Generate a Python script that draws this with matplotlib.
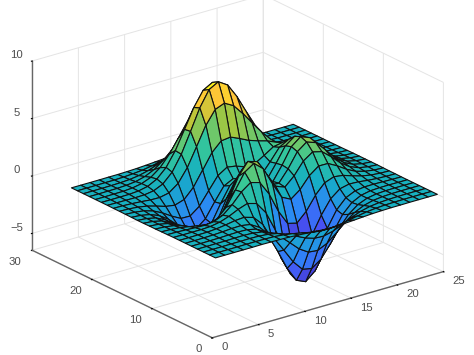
#!/usr/bin/env python3
import numpy as np
import matplotlib
matplotlib.use("Agg")
import matplotlib.pyplot as plt
from matplotlib.colors import LinearSegmentedColormap

# surface heights, one row per y = 1..25, one column per x = 1..25
row01 = [0,0,0,0,0,.01,0,-.01,-.03,-.08,-.14,-.20,-.25,-.25,-.22,-.17,-.11,-.06,-.03,-.01,-.01,0,0,0,0]
row02 = [0,0,0,0,.01,.01,0,-.02,-.10,-.22,-.39,-.56,-.68,-.69,-.61,-.46,-.30,-.17,-.08,-.03,-.01,0,0,0,0]
row03 = [0,0,0,.01,.01,.02,0,-.07,-.23,-.52,-.91,-1.30,-1.56,-1.60,-1.40,-1.06,-.69,-.38,-.18,-.08,-.03,-.01,0,0,0]
row04 = [0,0,.01,.01,.03,.04,.01,-.12,-.44,-.99,-1.74,-2.51,-3.02,-3.10,-2.72,-2.05,-1.32,-.73,-.35,-.14,-.05,-.01,0,0,0]
row05 = [0,0,.01,.02,.05,.07,.05,-.13,-.59,-1.45,-2.64,-3.88,-4.76,-4.93,-4.35,-3.27,-2.10,-1.15,-.53,-.20,-.06,-.01,0,0,0]
row06 = [0,0,.01,.03,.07,.13,.15,.02,-.46,-1.48,-3.01,-4.70,-5.98,-6.33,-5.64,-4.24,-2.69,-1.42,-.61,-.20,-.04,0,.01,0,0]
row07 = [0,0,.01,.02,.08,.19,.33,.39,.15,-.68,-2.18,-4.07,-5.68,-6.32,-5.76,-4.31,-2.63,-1.27,-.44,-.07,.04,.05,.03,.01,0]
row08 = [0,-.01,-.01,-.01,.03,.17,.45,.83,1.11,.88,-.14,-1.85,-3.61,-4.61,-4.40,-3.23,-1.74,-.56,.08,.27,.23,.13,.06,.02,.01]
row09 = [-.01,-.02,-.06,-.10,-.13,-.04,.30,.98,1.86,2.45,2.22,1.00,-.73,-2.02,-2.22,-1.43,-.27,.58,.88,.77,.50,.26,.11,.04,.01]
row10 = [-.02,-.05,-.12,-.26,-.42,-.51,-.28,.49,1.78,3.09,3.63,2.94,1.40,0,-.41,.20,1.18,1.79,1.78,1.35,.82,.41,.18,.06,.02]
row11 = [-.03,-.08,-.20,-.44,-.80,-1.16,-1.21,-.60,.80,2.49,3.55,3.30,2.00,.70,.39,1.14,2.20,2.76,2.56,1.88,1.12,.56,.24,.09,.03]
row12 = [-.03,-.10,-.27,-.60,-1.14,-1.78,-2.16,-1.84,-.56,1.23,2.56,2.63,1.58,.53,.48,1.50,2.76,3.37,3.09,2.25,1.34,.67,.28,.10,.03]
row13 = [-.04,-.11,-.30,-.69,-1.33,-2.14,-2.77,-2.71,-1.65,.06,1.48,1.75,.98,.19,.37,1.57,2.94,3.58,3.27,2.37,1.41,.70,.30,.11,.03]
row14 = [-.04,-.11,-.29,-.68,-1.32,-2.16,-2.87,-2.98,-2.15,-.65,.68,1.06,.52,-.03,.28,1.47,2.76,3.36,3.06,2.22,1.32,.66,.28,.10,.03]
row15 = [-.03,-.09,-.25,-.57,-1.12,-1.85,-2.49,-2.64,-2.00,-.76,.39,.80,.46,.09,.38,1.34,2.38,2.83,2.56,1.85,1.09,.54,.23,.08,.03]
row16 = [-.02,-.07,-.18,-.42,-.82,-1.33,-1.76,-1.78,-1.16,-.05,1.04,1.55,1.42,1.12,1.17,1.65,2.17,2.32,1.99,1.40,.82,.40,.17,.06,.02]
row17 = [-.01,-.04,-.11,-.25,-.48,-.74,-.86,-.60,.23,1.51,2.80,3.59,3.69,3.34,2.94,2.66,2.43,2.08,1.58,1.04,.58,.28,.11,.04,.01]
row18 = [-.01,-.02,-.06,-.12,-.20,-.22,-.05,.55,1.70,3.29,4.92,6.07,6.39,5.94,5.02,3.97,2.97,2.09,1.35,.79,.41,.19,.07,.03,.01]
row19 = [0,-.01,-.02,-.03,-.01,.11,.48,1.27,2.61,4.37,6.19,7.54,7.99,7.48,6.25,4.72,3.25,2.05,1.19,.62,.29,.12,.05,.02,0]
row20 = [0,0,0,.01,.07,.24,.65,1.43,2.67,4.29,5.96,7.22,7.68,7.20,5.99,4.45,2.96,1.78,.96,.47,.21,.08,.03,.01,0]
row21 = [0,0,.01,.02,.08,.23,.55,1.16,2.10,3.31,4.56,5.51,5.86,5.50,4.57,3.37,2.21,1.29,.68,.32,.13,.05,.02,0,0]
row22 = [0,0,.01,.02,.06,.15,.36,.74,1.32,2.07,2.84,3.43,3.65,3.43,2.84,2.09,1.36,.79,.41,.19,.08,.03,.01,0,0]
row23 = [0,0,0,.01,.03,.08,.19,.39,.69,1.07,1.46,1.77,1.88,1.77,1.46,1.07,.70,.40,.20,.09,.04,.01,0,0,0]
row24 = [0,0,0,.01,.01,.04,.09,.17,.30,.47,.64,.77,.82,.77,.64,.47,.30,.17,.09,.04,.02,.01,0,0,0]
row25 = [0,0,0,0,.01,.01,.03,.06,.11,.17,.23,.28,.30,.28,.23,.17,.11,.06,.03,.01,.01,0,0,0,0]

x_ticks = [0, 5, 10, 15, 20, 25]
y_ticks = [0, 10, 20, 30]
z_ticks = [-5, 0, 5, 10]

parula_colors = ["#3e26a8", "#4752f4", "#2d87f7", "#15aec4",
                 "#37c897", "#abc739", "#fec338", "#f9fb14"]

Z = np.array([row01, row02, row03, row04, row05, row06, row07, row08, row09,
              row10, row11, row12, row13, row14, row15, row16, row17, row18,
              row19, row20, row21, row22, row23, row24, row25])
X, Y = np.meshgrid(np.arange(1, 26), np.arange(1, 26))

parula = LinearSegmentedColormap.from_list("parula", parula_colors)
colors = parula((Z - Z.min()) / (Z.max() - Z.min()))

plt.rcParams["font.family"] = "Liberation Sans"
fig = plt.figure(figsize=(4.74, 3.55), dpi=100)
ax = fig.add_axes([0.117, 0.018, 0.749, 1.0], projection="3d", proj_type="ortho")
ax.view_init(elev=21.9, azim=-127.5)
ax.set_box_aspect((292.5, 297, 204.8), zoom=1.265)
ax.patch.set_alpha(0)

surf = ax.plot_surface(X, Y, Z, facecolors=colors, rstride=1, cstride=1,
                       edgecolor="#111111", linewidth=0.8, shade=False)
surf.set_clip_on(False)

ax.set_xlim(0, 25)
ax.set_ylim(0, 30)
ax.set_zlim(-6.47, 10)
ax.set_xticks(x_ticks)
ax.set_yticks(y_ticks)
ax.set_zticks(z_ticks)
ax.tick_params(labelsize=8.2, labelcolor="#4d4d4d")
ax.tick_params(axis="x", pad=-1)
ax.tick_params(axis="y", pad=-2)
ax.tick_params(axis="z", pad=-3)

for label in ax.get_xticklabels():
    label.set_ha("left")
    label.set_va("bottom")
for label in ax.get_yticklabels():
    label.set_ha("right")
    label.set_va("center")
for label in ax.get_zticklabels():
    label.set_va("bottom")

for axis in (ax.xaxis, ax.yaxis, ax.zaxis):
    axis.set_pane_color((1, 1, 1, 0))
    axis.pane.set_edgecolor("#e2e2e2")
    axis.line.set_color("#666666")
    axis.line.set_linewidth(1.0)
    axis._axinfo["grid"]["color"] = "#e4e4e4"
    axis._axinfo["grid"]["linewidth"] = 0.7
    axis._axinfo["tick"]["color"] = "#666666"
    axis._axinfo["tick"]["inward_factor"] = 0.04
    axis._axinfo["tick"]["outward_factor"] = 0.0

plt.savefig("out.png", dpi=100)
